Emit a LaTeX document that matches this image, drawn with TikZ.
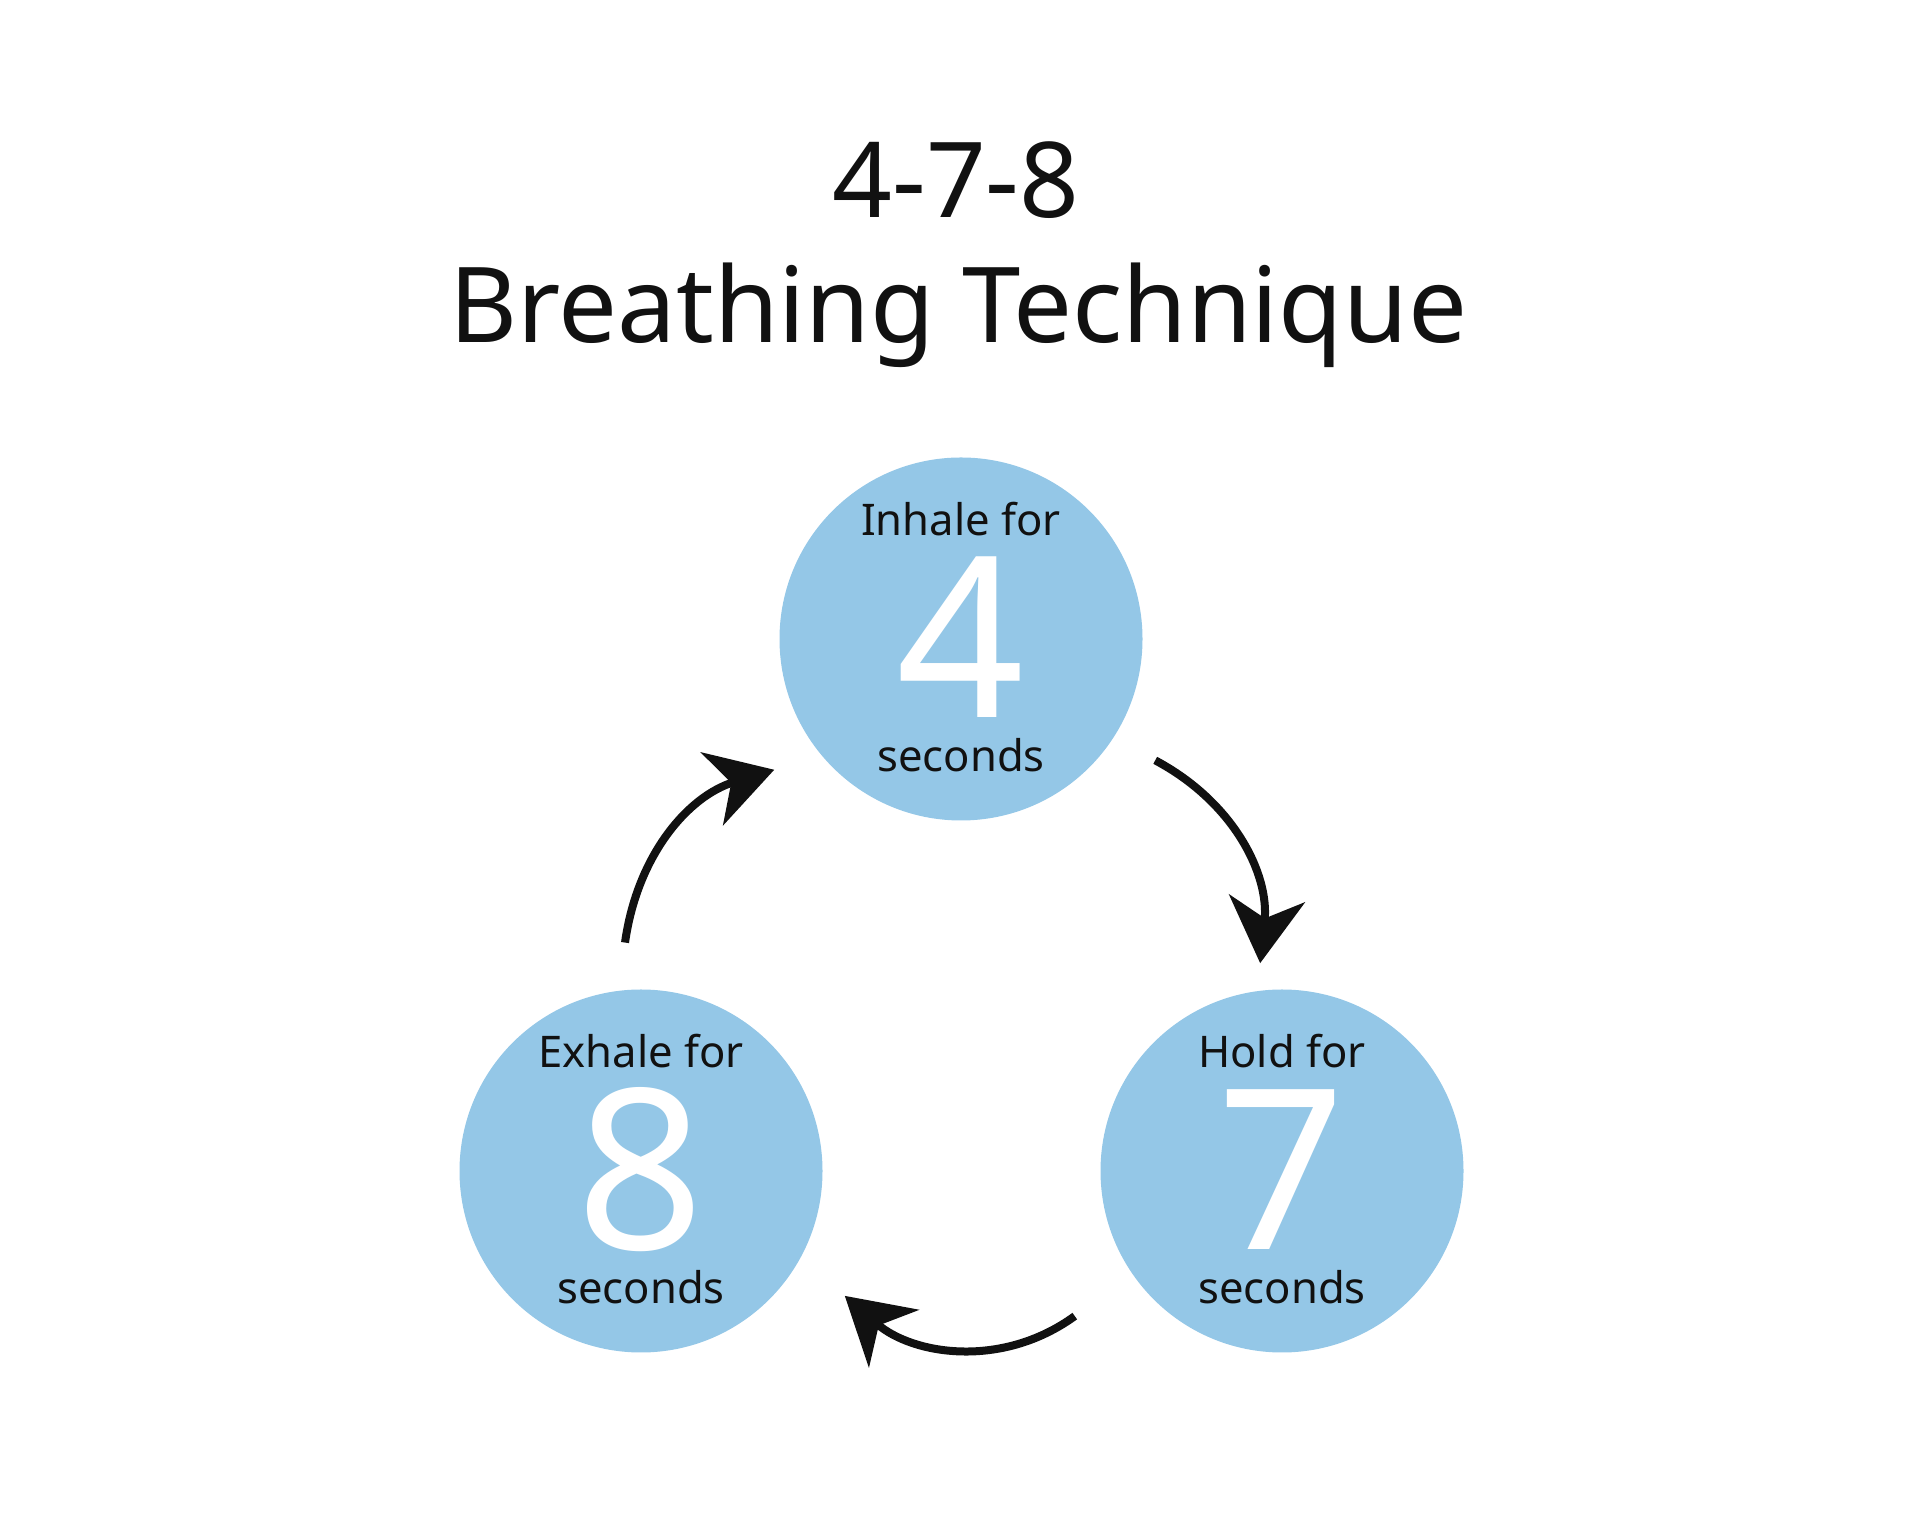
\documentclass[tikz,border=0pt]{standalone}
\usepackage{fontspec}
\setmainfont{Noto Sans}
\usetikzlibrary{arrows.meta, positioning, calc}
\definecolor{SkyBlue}{HTML}{94C7E7}
\definecolor{InkBlack}{HTML}{111111}

\tikzset{
  stepcircle/.style={circle, fill=SkyBlue, minimum size=3.63cm, inner sep=0pt},
  steplabel/.style={font=\fontsize{12.4}{14}\selectfont, text=InkBlack,
                    anchor=base, inner sep=0pt},
  stepdigit/.style={font=\fontsize{63.7}{70}\selectfont, text=white,
                    anchor=base, inner sep=0pt},
  titletext/.style={font=\fontsize{29.8}{34}\selectfont, text=InkBlack,
                    anchor=base, inner sep=0pt},
  cyclearrow/.style={-{Stealth[length=0.65cm, width=0.76cm, inset=0.2cm]},
                     line width=0.08cm, draw=InkBlack}
}

\begin{document}
\begin{tikzpicture}
\useasboundingbox (0,0) rectangle (19.2,15.36);

% title
\node[titletext] (titleNum) at (9.56,13.18) {4-7-8};
\node[titletext] (titleName) at (9.58,11.93) {Breathing Technique};

% the three steps
\node[stepcircle] (inhale) at (9.61,8.97) {};
\node[stepcircle] (hold)   at (12.82,3.65) {};
\node[stepcircle] (exhale) at (6.41,3.65) {};

\node[steplabel] (inhaleTop) at ($(inhale)+(0,1.03)$) {Inhale for};
\node[stepdigit] (inhaleNum) at ($(inhale)+(0,-0.79)$) {4};
\node[steplabel] (inhaleBot) at ($(inhale)+(0,-1.33)$) {seconds};

\node[steplabel] (holdTop) at ($(hold)+(0,1.03)$) {Hold for};
\node[stepdigit] (holdNum) at ($(hold)+(0,-0.79)$) {7};
\node[steplabel] (holdBot) at ($(hold)+(0,-1.33)$) {seconds};

\node[steplabel] (exhaleTop) at ($(exhale)+(0,1.03)$) {Exhale for};
\node[stepdigit] (exhaleNum) at ($(exhale)+(0,-0.79)$) {8};
\node[steplabel] (exhaleBot) at ($(exhale)+(0,-1.33)$) {seconds};

% arrow ends
\coordinate (inhaleOut) at ($(inhale)+(-32:2.29)$);
\coordinate (holdIn)    at ($(hold)+(96:2.09)$);
\coordinate (holdOut)   at ($(hold)+(215:2.53)$);
\coordinate (exhaleIn)  at ($(exhale)+(-31.5:2.39)$);
\coordinate (exhaleOut) at ($(exhale)+(94:2.29)$);
\coordinate (inhaleIn)  at ($(inhale)+(215:2.28)$);

% cycle
\draw[cyclearrow] (inhaleOut) to[out=-28, in=84] (holdIn);
\draw[cyclearrow] (holdOut) to[out=216, in=-41] (exhaleIn);
\draw[cyclearrow] (exhaleOut) to[out=82, in=197] (inhaleIn);
\end{tikzpicture}
\end{document}
